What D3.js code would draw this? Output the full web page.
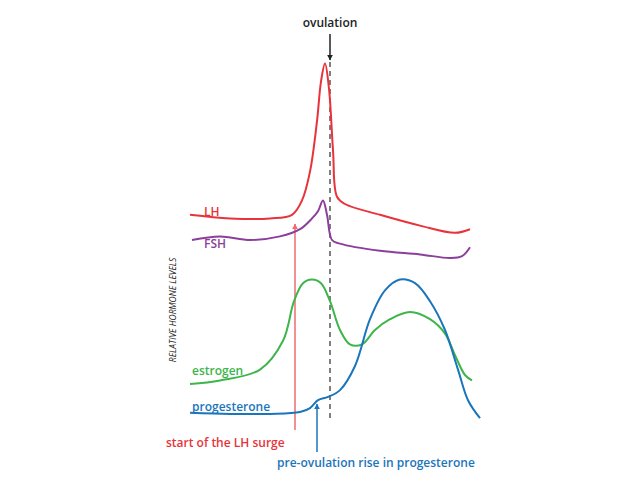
<!DOCTYPE html>
<html><head><meta charset="utf-8">
<script src="https://cdn.jsdelivr.net/npm/d3@7"></script>
<style>body{margin:0;background:#fff}text{font-family:"Open Sans",sans-serif}</style>
</head><body><svg id="c" width="638" height="478"></svg>
<script>
const lh=[[0,57],[4,56],[8,56],[10.2,57],[11.2,61],[12,69],[12.7,83],[13.1,94],[13.5,99],[13.9,92],[14.3,75],[14.7,62],[15.5,60],[19,57],[23,54],[26.5,52],[28,53]];
const fsh=[[0.2,50],[3,51],[6,50],[9,51],[11,53],[12.2,56],[12.8,58],[13.3,61],[13.7,57],[14.2,50],[15,49],[19,47],[23,46],[26,45],[27.2,45.5],[28,48]];
const estrogen=[[0,10],[3,11],[7,14],[9.3,22],[10.4,33],[11.3,38],[12.2,39],[13.1,38],[14,33],[15,25],[16,21],[17.2,21],[18.5,25],[20,28],[22,30],[24,28],[25.5,24],[26.5,18],[27.5,12.5],[28.2,11]];
const progesterone=[[0,2],[4,1.7],[8,1.7],[11,2.2],[12,3.3],[12.8,5.5],[13.8,6.4],[15,8.3],[16.5,15],[18,28],[19.5,36],[21,39],[22.5,38],[24,33],[25.5,25],[26.8,14],[27.8,5.5],[29,0.5]];
const ovulationDay=14, surgeDay=10.5, riseDay=12.7;
const svg=d3.select("#c");
const x=d3.scaleLinear().domain([0,29]).range([190,480]);
const y=d3.scaleLinear().domain([0,100]).range([420,60]);
const line=d3.line().x(d=>x(d[0])).y(d=>y(d[1])).curve(d3.curveCatmullRom);
const defs=svg.append("defs");
function mk(id,c){defs.append("marker").attr("id",id).attr("viewBox","0 0 10 10").attr("refX",9).attr("refY",5).attr("markerWidth",4).attr("markerHeight",4).attr("orient","auto").append("path").attr("d","M0,0L10,5L0,10z").attr("fill",c);}
mk("ar","#ef6b6f");mk("ab","#1b75bb");mk("ak","#222");
svg.append("line").attr("x1",x(ovulationDay)).attr("x2",x(ovulationDay)).attr("y1",62).attr("y2",422).attr("stroke","#555").attr("stroke-width",1.5).attr("stroke-dasharray","5,4");
svg.append("line").attr("x1",x(ovulationDay)).attr("x2",x(ovulationDay)).attr("y1",34).attr("y2",60).attr("stroke","#222").attr("stroke-width",1.5).attr("marker-end","url(#ak)");
svg.append("line").attr("x1",x(surgeDay)).attr("x2",x(surgeDay)).attr("y1",430).attr("y2",224).attr("stroke","#ef6b6f").attr("stroke-width",1.5).attr("marker-end","url(#ar)");
svg.append("line").attr("x1",x(riseDay)).attr("x2",x(riseDay)).attr("y1",452).attr("y2",404).attr("stroke","#1b75bb").attr("stroke-width",1.5).attr("marker-end","url(#ab)");
const series=[[lh,"#e8333a"],[fsh,"#8b3f9b"],[estrogen,"#3db54a"],[progesterone,"#1b75bb"]];
series.forEach(([d,c])=>svg.append("path").attr("d",line(d)).attr("fill","none").attr("stroke",c).attr("stroke-width",2));
const T=(t,px,py,c,o={})=>svg.append("text").attr("x",px).attr("y",py).attr("fill",c).attr("font-size",o.s||12).attr("font-weight",o.w||600).attr("text-anchor",o.a||"start").text(t);
T("ovulation",330,27,"#222",{a:"middle"});
T("LH",204,216,"#e8333a");
T("FSH",204,248,"#8b3f9b");
T("estrogen",192,375,"#3db54a");
T("progesterone",192,411,"#1b75bb");
T("start of the LH surge",166,447,"#e8333a");
T("pre-ovulation rise in progesterone",277,467,"#1b75bb");
svg.append("text").attr("transform","translate(176,310) rotate(-90)").attr("text-anchor","middle").attr("font-size",8.5).attr("font-style","italic").attr("fill","#222").text("RELATIVE HORMONE LEVELS");
</script></body></html>
